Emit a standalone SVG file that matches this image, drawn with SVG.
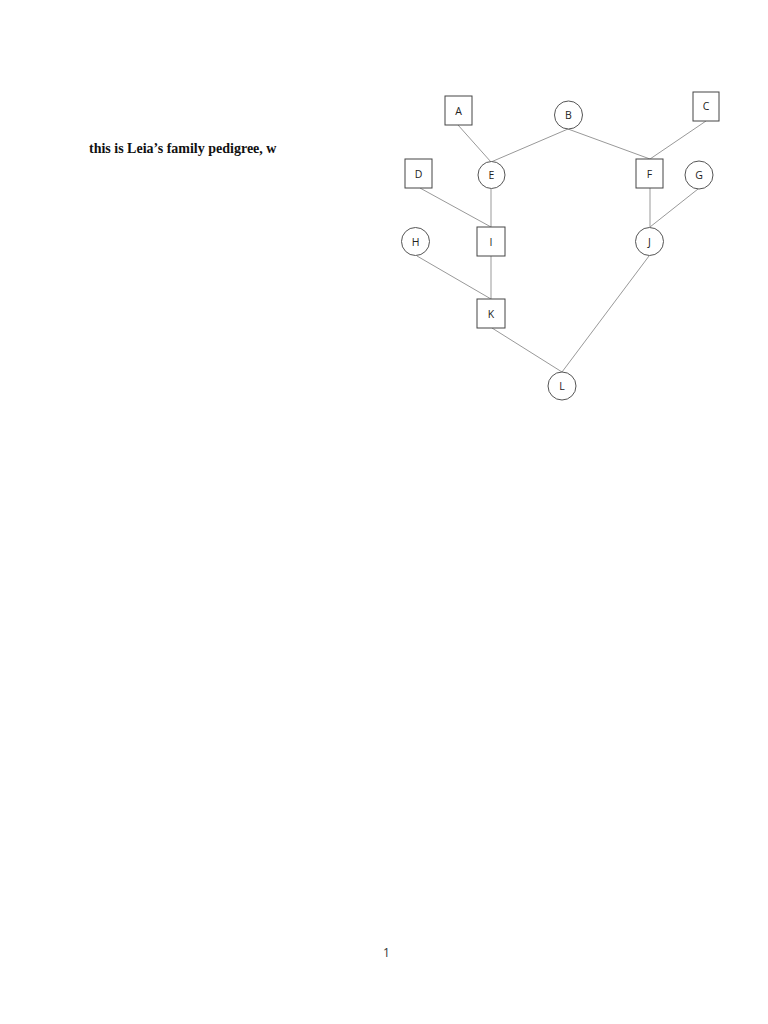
<svg xmlns="http://www.w3.org/2000/svg" width="768" height="1024" viewBox="0 0 768 1024">
<style>
.sq{fill:#fff;stroke:#444;stroke-width:1}
.ci{fill:#fff;stroke:#555;stroke-width:1}
.lbl{font-family:"Open Sans","Liberation Sans",sans-serif;font-size:10.5px;fill:#222;text-anchor:middle}
.edge{stroke:#999;stroke-width:1;fill:none}
</style>
<rect width="768" height="1024" fill="#fff"/>
<text x="89" y="153" font-family="Liberation Serif,serif" font-weight="bold" font-size="14px" fill="#111">this is Leia’s family pedigree, w</text>
<text x="383" y="957" font-family="Open Sans,Liberation Sans,sans-serif" font-size="12px" fill="#333">1</text>
<g id="connectors">
<line class="edge" x1="458" y1="125" x2="491" y2="162"/>
<line class="edge" x1="568" y1="129" x2="491" y2="162"/>
<line class="edge" x1="568" y1="129" x2="650" y2="159"/>
<line class="edge" x1="706" y1="121" x2="650" y2="159"/>
<line class="edge" x1="420" y1="188" x2="491" y2="227"/>
<line class="edge" x1="491" y1="189" x2="491" y2="227"/>
<line class="edge" x1="650" y1="188" x2="650" y2="227"/>
<line class="edge" x1="698" y1="189" x2="650" y2="227"/>
<line class="edge" x1="417" y1="256" x2="491" y2="299"/>
<line class="edge" x1="491" y1="256" x2="491" y2="299"/>
<line class="edge" x1="492" y1="328" x2="562" y2="372"/>
<line class="edge" x1="649" y1="256" x2="562" y2="372"/>
</g>
<g id="A"><rect class="sq" x="445" y="96" width="27" height="29"/><text class="lbl" x="458.5" y="114.5">A</text></g>
<g id="B"><circle class="ci" cx="568.5" cy="115" r="14"/><text class="lbl" x="568.5" y="119">B</text></g>
<g id="C"><rect class="sq" x="693" y="92" width="26" height="29"/><text class="lbl" x="706" y="110">C</text></g>
<g id="D"><rect class="sq" x="405" y="159" width="27" height="29"/><text class="lbl" x="418.5" y="177.5">D</text></g>
<g id="E"><circle class="ci" cx="491.5" cy="175" r="13.5"/><text class="lbl" x="491.5" y="179">E</text></g>
<g id="F"><rect class="sq" x="636" y="159" width="27" height="29"/><text class="lbl" x="649.5" y="177.5">F</text></g>
<g id="G"><circle class="ci" cx="699" cy="175" r="14"/><text class="lbl" x="699" y="179">G</text></g>
<g id="H"><circle class="ci" cx="415.5" cy="241.5" r="14"/><text class="lbl" x="415.5" y="245.5">H</text></g>
<g id="I"><rect class="sq" x="477" y="227" width="28" height="29"/><text class="lbl" x="491" y="245.5">I</text></g>
<g id="J"><circle class="ci" cx="649.5" cy="241.5" r="14"/><text class="lbl" x="649.5" y="245.5">J</text></g>
<g id="K"><rect class="sq" x="477" y="299" width="28" height="29"/><text class="lbl" x="491" y="317.5">K</text></g>
<g id="L"><circle class="ci" cx="562" cy="386" r="14"/><text class="lbl" x="562" y="390">L</text></g>
</svg>
